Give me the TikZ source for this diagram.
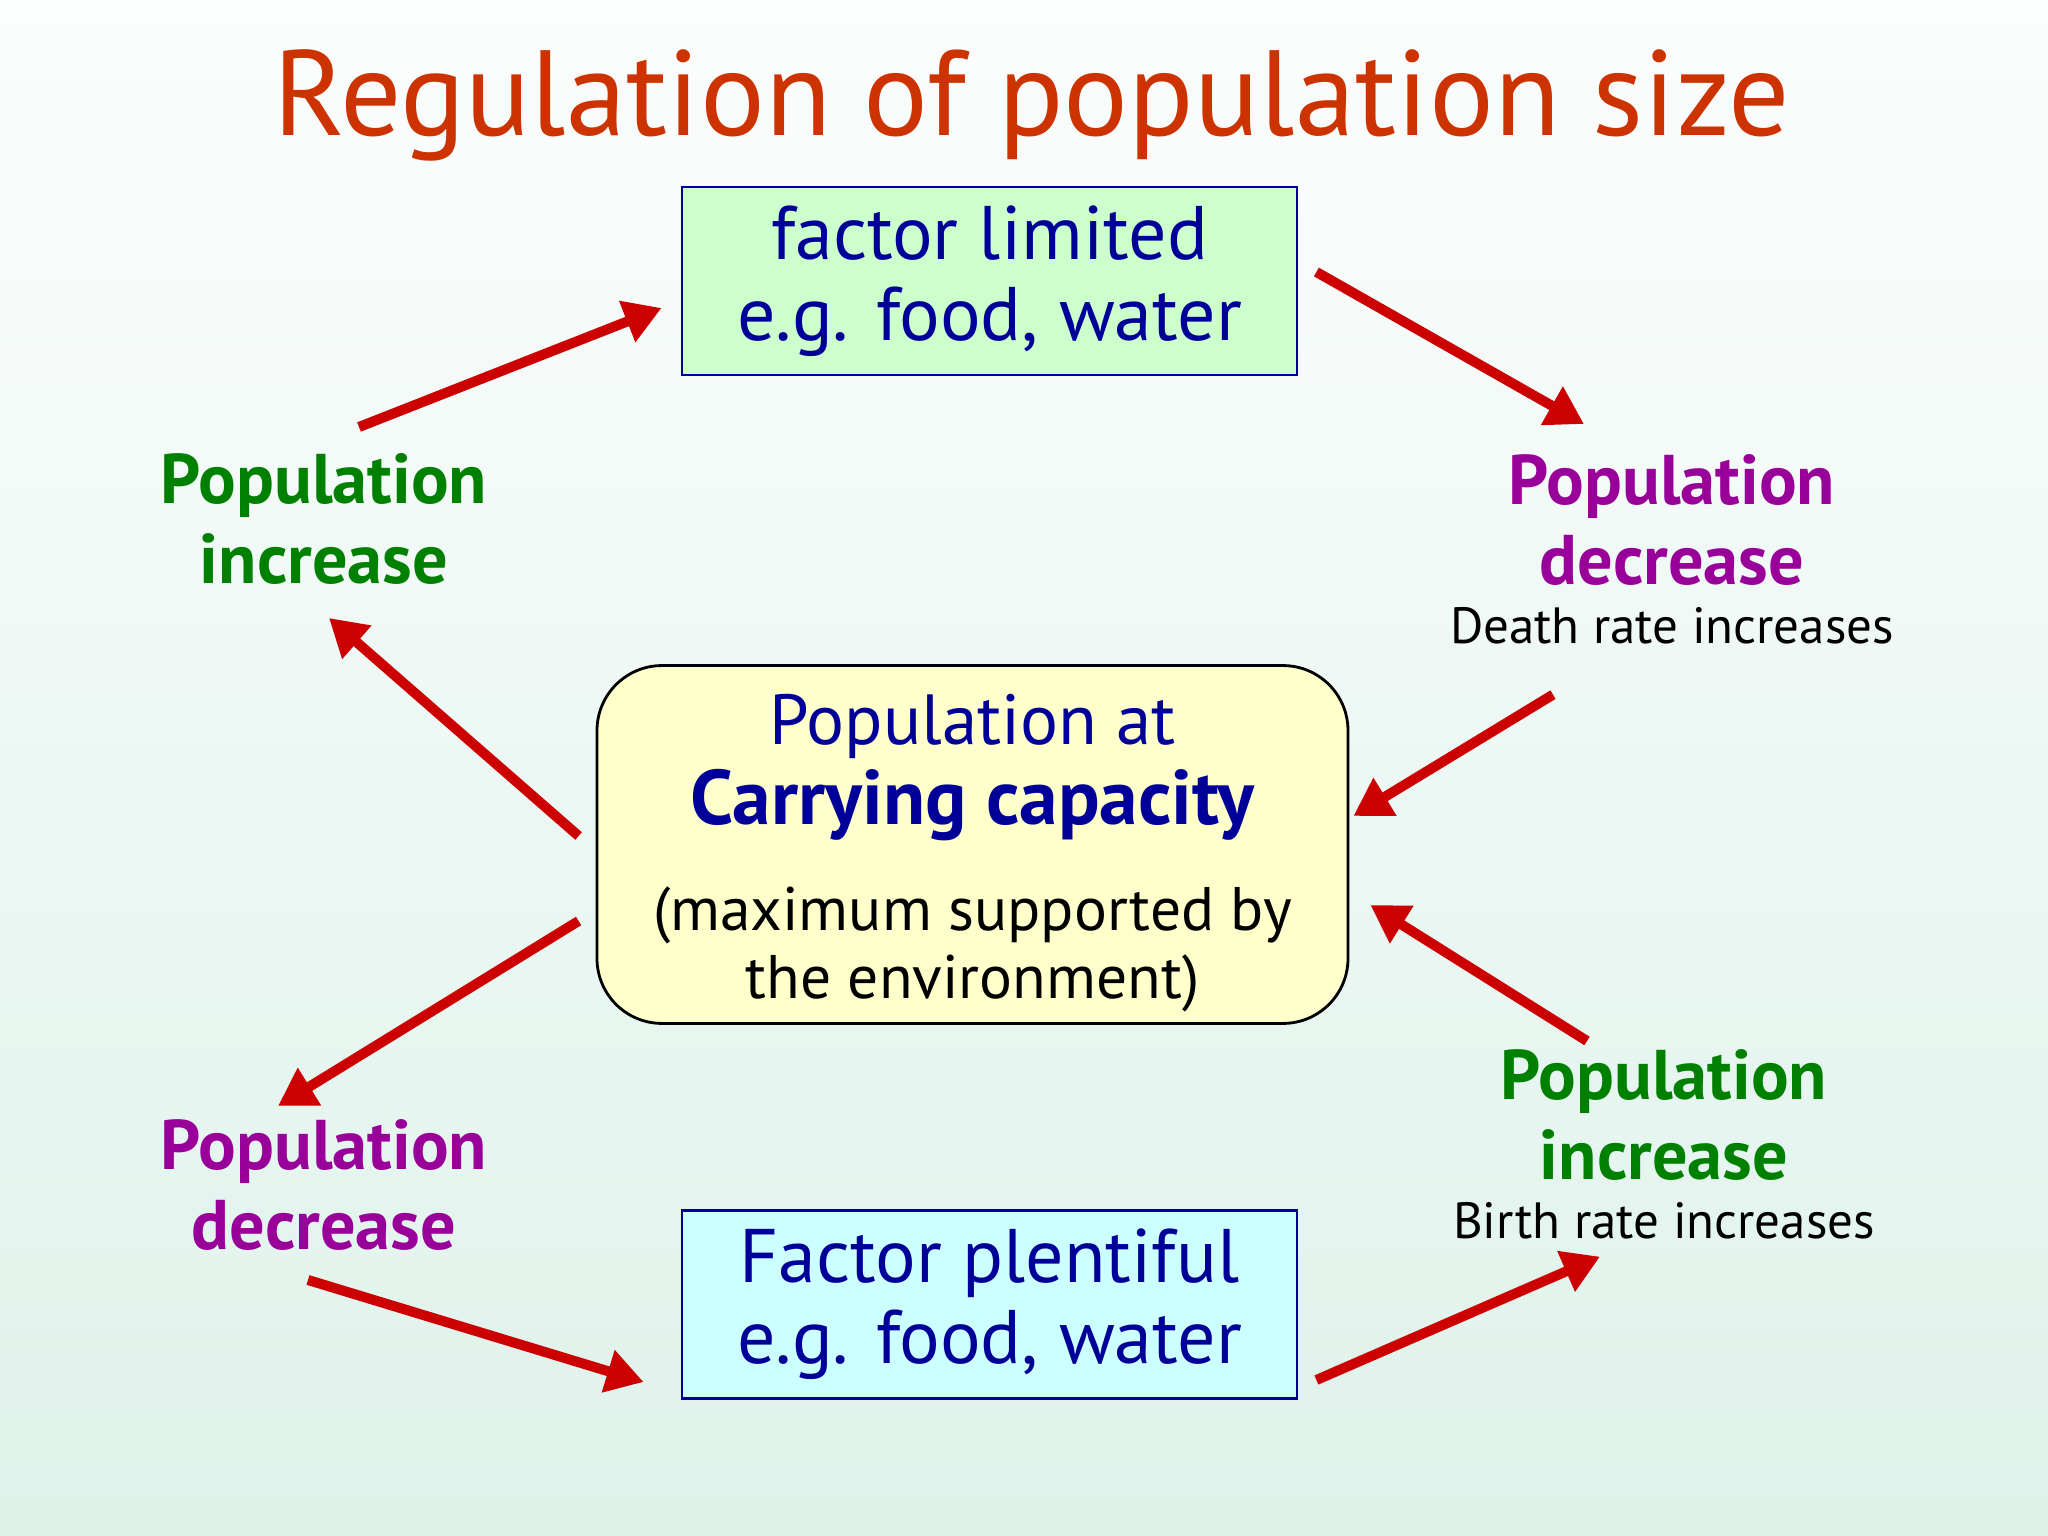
\documentclass[tikz,border=0pt]{standalone}
\usepackage{fontspec}
\setmainfont{PT Sans}
\usepackage{xcolor}
\usepackage{tikz}
\usetikzlibrary{arrows.meta,positioning}
\definecolor{titlered}{RGB}{204,51,0}
\definecolor{textblue}{RGB}{0,0,153}
\definecolor{popgreen}{RGB}{0,128,0}
\definecolor{poppurple}{RGB}{153,0,153}
\definecolor{arrowred}{RGB}{204,0,0}
\definecolor{limgreen}{RGB}{204,255,204}
\definecolor{capyellow}{RGB}{255,255,204}
\definecolor{plencyan}{RGB}{204,255,255}
\definecolor{bgtop}{RGB}{252,253,253}
\definecolor{bgbot}{RGB}{222,242,234}
\tikzset{%
	factor/.style  = {draw=textblue, thick, rectangle, minimum width=6.15cm, minimum height=1.88cm, text=textblue, align=center, font=\fontsize{21.6}{23}\selectfont}, % factor box
	carry/.style   = {draw=black, thick, rectangle, rounded corners=0.65cm, minimum width=7.51cm, minimum height=3.57cm, fill=capyellow, text=textblue, align=center, font=\fontsize{20.2}{23}\selectfont}, % centre box
	incr/.style    = {text=popgreen, align=center, inner sep=0pt, font=\fontsize{20}{23}\bfseries\selectfont}, % increase
	decr/.style    = {text=poppurple, align=center, inner sep=0pt, font=\fontsize{20}{23}\bfseries\selectfont}, % decrease
	rate/.style    = {text=black, inner sep=0pt, font=\fontsize{14.5}{16}\selectfont}, % rate note
	flow/.style    = {draw=arrowred, line width=0.1cm, -{Triangle[length=0.37cm,width=0.42cm]}},
}

\begin{document}
\begin{tikzpicture}
	\shade[top color=bgtop, bottom color=bgbot] (0,0) rectangle (20.48,-15.36);
	\useasboundingbox (0,0) rectangle (20.48,-15.36);

	\node[anchor=base, text=titlered, font=\fontsize{34.5}{38}\selectfont] (title) at (10.32,-1.36) {Regulation of population size};

	\node [factor, fill=limgreen] (lim) at (9.895,-2.81) {factor limited\\e.g. food, water};
	\node [carry] (cap) at (9.725,-8.445) {\rule{0pt}{19pt}Population at\\{\bfseries\fontsize{22}{23}\selectfont Carrying capacity}\\[7pt]{\color{black}\fontsize{17.5}{19}\selectfont (maximum supported by}\\[-3.7pt]{\color{black}\fontsize{17.5}{19}\selectfont the environment)}};
	\node [factor, fill=plencyan] (plen) at (9.895,-13.045) {Factor plentiful\\e.g. food, water};

	\node [incr] (incL) at (3.24,-5.19) {Population\\increase};
	\node [decr] (decR) at (16.72,-5.20) {Population\\decrease};
	\node [rate] (deathR) [below=0.2cm of decR] {Death rate increases};
	\node [decr] (decL) at (3.24,-11.85) {Population\\decrease};
	\node [incr] (incR) at (16.64,-11.15) {Population\\increase};
	\node [rate] (birthR) [below=0.2cm of incR] {Birth rate increases};

	\draw[flow] ([shift={(0.35,0.92)}]incL.center) -- ([shift={(-0.19,-0.27)}]lim.west);
	\draw[flow] ([shift={(0.18,0.09)}]lim.east) -- ([shift={(-0.88,0.96)}]decR.center);
	\draw[flow] ([shift={(-1.19,-0.69)}]deathR.center) -- ([shift={(0.04,0.285)}]cap.east);
	\draw[flow] ([shift={(-0.77,0.74)}]incR.center) -- ([shift={(0.21,-0.605)}]cap.east);
	\draw[flow] ([shift={(0.18,-0.755)}]plen.east) -- ([shift={(-0.64,-0.36)}]birthR.center);
	\draw[flow] ([shift={(-0.16,-0.95)}]decL.center) -- ([shift={(-0.37,-0.775)}]plen.west);
	\draw[flow] ([shift={(-0.17,-0.765)}]cap.west) -- ([shift={(-0.46,0.79)}]decL.center);
	\draw[flow] ([shift={(-0.17,0.085)}]cap.west) -- ([shift={(0.05,-0.99)}]incL.center);
\end{tikzpicture}
\end{document}
